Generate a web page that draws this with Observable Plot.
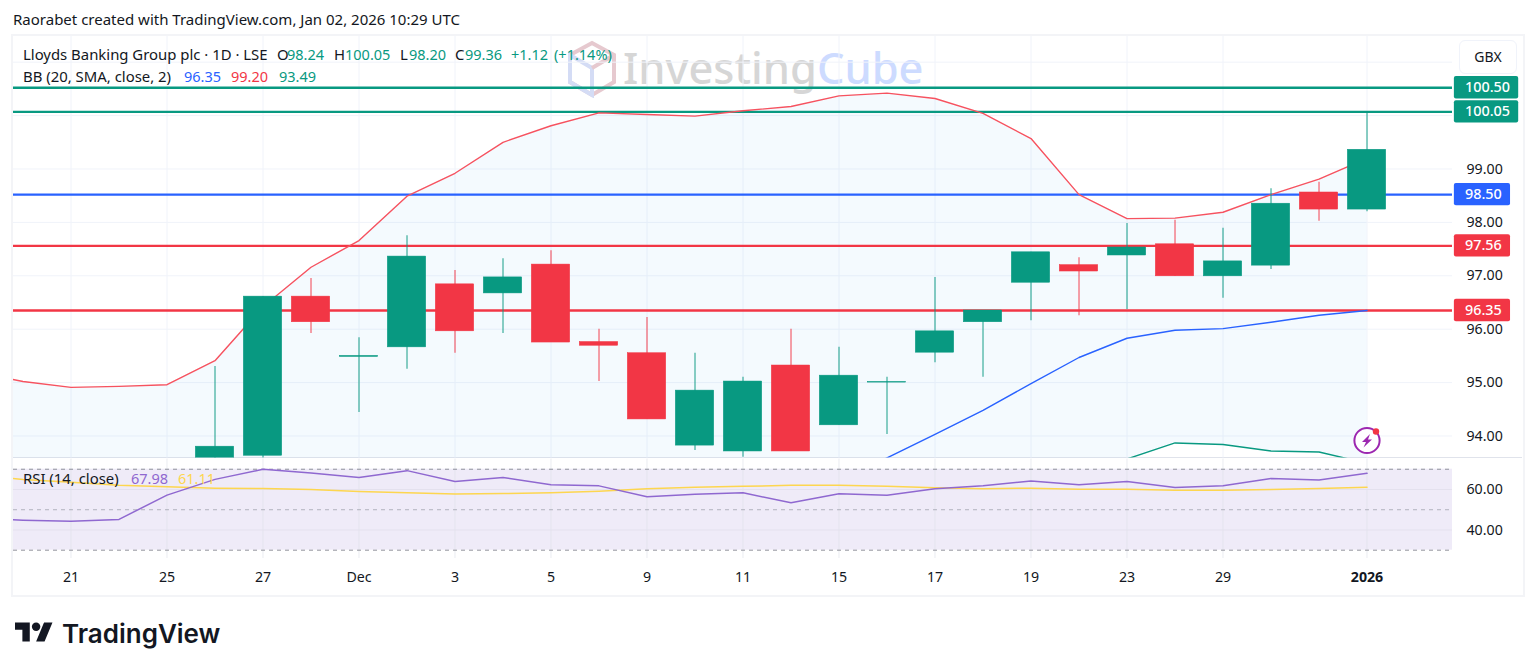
<!DOCTYPE html>
<html>
<head>
<meta charset="utf-8">
<script src="https://cdn.jsdelivr.net/npm/d3@7"></script>
<script src="https://cdn.jsdelivr.net/npm/@observablehq/plot@0.6"></script>
<style>
html,body{margin:0;padding:0;background:#fff;}
#page{position:relative;width:1536px;height:672px;overflow:hidden;font-family:"Noto Sans",sans-serif;color:#131722;}
#page svg{position:absolute;left:0;background:transparent;}
.t{position:absolute;white-space:pre;font-size:14.9px;line-height:18px;}
.n{font-size:14.5px;}
.up{color:#089981}.dn{color:#f23645}.bl{color:#2962ff}
</style>
</head>
<body>
<div id="page"></div>
<script>
// ---- Candles (one entry per trading session, x = session index) ----
const barIndex = [3,4,5,6,7,8,9,10,11,12,13,14,15,16,17,18,19,20,21,22,23,24,25,26,27];
const open  = [93.20,93.63,96.61,95.48,95.66,96.84,96.67,97.21,95.76,95.55,93.82,93.71,95.32,94.20,95.00,95.56,96.13,96.87,97.20,97.38,97.59,96.99,97.19,98.56,98.24];
const high  = [95.30,96.61,96.95,95.84,97.75,97.10,97.32,97.47,96.00,96.22,95.55,95.10,96.00,95.66,95.10,96.97,96.35,97.44,97.34,97.98,98.04,97.89,98.63,98.75,100.05];
const low   = [93.10,93.55,95.92,94.44,95.25,95.55,95.92,95.75,95.02,94.31,93.73,93.60,93.71,94.20,94.03,95.37,95.10,96.16,96.25,96.37,96.99,96.58,97.12,98.02,98.20];
const close = [93.80,96.61,96.13,95.50,97.36,95.96,96.97,95.75,95.69,94.31,94.85,95.02,93.71,95.13,95.01,95.96,96.35,97.44,97.08,97.53,96.99,97.27,98.35,98.24,99.36];

// ---- Bollinger bands ----
const bandIndex = [-2,-1,0,1,2,3,4,5,6,7,8,9,10,11,12,13,14,15,16,17,18,19,20,21,22,23,24,25,26,27];
const bbUpper = [95.21,95.02,94.91,94.93,94.96,95.41,96.42,97.16,97.66,98.49,98.92,99.50,99.81,100.05,100.02,99.99,100.09,100.17,100.37,100.42,100.32,100.04,99.57,98.52,98.07,98.08,98.19,98.52,98.81,99.20];
const bbLower = [90.2,90.0,89.9,89.7,89.5,89.2,88.8,88.3,87.9,87.5,87.2,87.0,86.9,86.8,86.7,86.6,86.6,86.6,86.5,86.8,87.74,88.9,90.4,92.42,93.57,93.87,93.84,93.72,93.70,93.49];
const basisIndex = [16,17,18,19,20,21,22,23,24,25,26,27];
const bbBasis = [93.17,93.59,94.03,94.48,94.98,95.47,95.83,95.98,96.01,96.13,96.26,96.35];

// ---- RSI pane ----
const rsi = [45.82,44.84,44.25,45.23,57.22,64.99,70.00,68.18,65.87,69.31,63.91,65.97,62.29,61.79,56.39,57.62,58.35,53.44,57.86,57.13,60.32,61.79,64.25,62.29,63.91,60.96,61.79,65.38,64.74,67.98];
const rsiMa = [66.95,64.99,63.61,62.14,61.30,60.66,60.47,59.98,58.99,58.35,57.71,58.01,58.35,59.09,60.32,61.06,61.55,62.04,62.04,61.55,60.81,60.32,60.66,60.17,60.17,59.68,59.68,59.98,60.47,61.11];
const rsiBands = [70,50,30];
const rsiGrid = [60,40];

// ---- Horizontal price levels (as drawn on the chart, and as labelled) ----
const levelPrices = [100.52,100.07,98.52,97.56,96.35];
const levelLabels = ["100.50","100.05","98.50","97.56","96.35"];
const levelKinds  = ["up","up","blue","down","down"];

// ---- Axes ----
const tickIndex  = [0,2,4,6,8,10,12,14,16,18,20,22,24,27];
const tickLabels = ["21","25","27","Dec","3","5","9","11","15","17","19","23","29","2026"];
const priceGrid  = [94,95,96,97,98,99,100,101];
const priceTicks = [94,95,96,97,98,99];

// ---- Presentation ----
const UP="#089981", DOWN="#f23645", BLUE="#2962ff", GRID="#f0f3fa", FONT='"Noto Sans",sans-serif';
const kindColor = {up:UP,down:DOWN,blue:BLUE};
const xDomain=[-1.198,28.781], W=1536, ML=13, MR=84;

const candles = barIndex.map((i,k)=>({i,o:open[k],h:high[k],l:low[k],c:close[k]}));
const band = bandIndex.map((i,k)=>({i,u:bbUpper[k],l:bbLower[k],r:rsi[k],m:rsiMa[k]}));
const basis = basisIndex.map((i,k)=>({i,v:bbBasis[k]}));
const levels = levelPrices.map((p,k)=>({p,label:levelLabels[k],kind:levelKinds[k],wide:p>=100}));
const col = d=>d.c>=d.o?UP:DOWN;

const price = Plot.plot({
  width:W,height:458,marginLeft:ML,marginRight:MR,marginTop:36,marginBottom:0.5,
  style:{fontFamily:FONT,fontSize:"14px",color:"#131722",background:"transparent",overflow:"visible"},
  x:{domain:xDomain,axis:null},
  y:{domain:[93.588,101.481],axis:null},
  marks:[
    Plot.ruleX(tickIndex,{stroke:GRID,strokeWidth:1}),
    Plot.ruleY(priceGrid,{stroke:GRID,strokeWidth:1}),
    Plot.areaY(band,{x:"i",y1:"l",y2:"u",fill:"#2196f3",fillOpacity:0.05,clip:true}),
    Plot.ruleY(levels,{y:"p",stroke:d=>kindColor[d.kind],strokeWidth:2.4}),
    Plot.line(band,{x:"i",y:"u",stroke:"#f7525f",strokeWidth:1.4,clip:true}),
    Plot.line(basis,{x:"i",y:"v",stroke:"#2962ff",strokeWidth:1.4,clip:true}),
    Plot.line(band,{x:"i",y:"l",stroke:"#089981",strokeWidth:1.4,clip:true}),
    Plot.ruleX(candles,{x:"i",y1:"l",y2:"h",stroke:col,strokeWidth:1.3,strokeOpacity:0.72,clip:true}),
    Plot.rect(candles,{x1:d=>d.i-0.4,x2:d=>d.i+0.4,y1:"o",y2:"c",fill:col,stroke:col,strokeWidth:0.5,clip:true}),
    Plot.axisY(priceTicks,{anchor:"right",tickSize:0,tickPadding:14,label:null,tickFormat:d=>d.toFixed(2),fontSize:14.2,fill:"#131722"}),
    Plot.rect(levels,{x1:28.82,x2:d=>d.wide?30.16:29.99,y1:d=>d.p-0.21,y2:d=>d.p+0.21,fill:d=>kindColor[d.kind],rx:2}),
    Plot.text(levels,{x:29.04,y:"p",text:"label",textAnchor:"start",fill:"#fff",fontSize:14.4,fontWeight:500})
  ]
});
price.style.top="0px";

const rsiPane = Plot.plot({
  width:W,height:600,marginLeft:ML,marginRight:MR,marginTop:0.5,marginBottom:500,
  style:{fontFamily:FONT,fontSize:"14px",color:"#131722",background:"transparent",overflow:"visible"},
  x:{domain:xDomain,axis:null},
  y:{domain:[25.9,75.06],axis:null},
  marks:[
    Plot.rectY([0],{x1:xDomain[0],x2:xDomain[1],y1:rsiBands[2],y2:rsiBands[0],fill:"#7e57c2",fillOpacity:0.12}),
    Plot.ruleX(tickIndex,{stroke:"#dfe2ea",strokeOpacity:0.65,strokeWidth:1}),
    Plot.ruleY(rsiGrid,{stroke:"#e4e1ee",strokeWidth:1}),
    Plot.ruleY(rsiBands,{stroke:"#787b86",strokeOpacity:d=>d===50?0.5:0.8,strokeDasharray:"4 4",strokeWidth:1}),
    Plot.line(band,{x:"i",y:"m",stroke:"#fdd64f",strokeWidth:1.5,clip:true}),
    Plot.line(band,{x:"i",y:"r",stroke:"#8f68d0",strokeWidth:1.5,clip:true}),
    Plot.axisY(rsiGrid,{anchor:"right",tickSize:0,tickPadding:14,label:null,tickFormat:d=>d.toFixed(2),fontSize:14.2,fill:"#131722"}),
    Plot.axisX(tickIndex.slice(0,-1),{anchor:"bottom",tickSize:0,tickPadding:13,label:null,tickFormat:i=>tickLabels[tickIndex.indexOf(i)],fontSize:14.2,fill:"#131722"}),
    Plot.axisX(tickIndex.slice(-1),{anchor:"bottom",tickSize:0,tickPadding:13,label:null,tickFormat:i=>tickLabels[tickIndex.indexOf(i)],fontSize:14.2,fontWeight:700,fill:"#131722"})
  ]
});
rsiPane.style.top="458px";

const page=document.getElementById("page");
function html(s){page.insertAdjacentHTML("beforeend",s);}
function text(x,y,str,cls=""){html(`<div class="t ${cls}" style="left:${x}px;top:${y}px">${str}</div>`);}

// chart frame
html(`<div style="position:absolute;left:11px;top:34px;width:1510px;height:559px;border:2px solid #f3f4f7;"></div>`);
html(`<div style="position:absolute;left:13px;top:457px;width:1509px;height:1px;background:#e0e3eb;"></div>`);
// watermark (under the panes)
html(`<svg style="top:40px;left:566px" width="52" height="58" viewBox="0 0 52 58">
<path d="M26 3 L48 15 L48 42 L26 55 L4 42 L4 15 Z" fill="none" stroke="#e6c9cf" stroke-width="4"/>
<path d="M4 15 L26 28 L26 55 L4 42 Z" fill="none" stroke="#d4dcf5" stroke-width="4"/>
<path d="M26 28 L48 15" fill="none" stroke="#e6c9cf" stroke-width="4"/></svg>`);
html(`<div style="position:absolute;left:623px;top:40px;font:500 43.4px/56px 'Noto Sans',sans-serif;white-space:pre"><span style="color:#d6d6d6">Investing</span><span style="color:#cddbff">Cube</span></div>`);

page.appendChild(price);
page.appendChild(rsiPane);

// title
html(`<div class="t" style="left:13px;top:10px;font-size:15px">Raorabet created with TradingView.com, Jan 02, 2026 10:29 UTC</div>`);
// legends
text(23,45,"Lloyds Banking Group plc · 1D · LSE");
text(277,45,"O"); text(287,45,"98.24","n up");
text(334,45,"H"); text(345,45,"100.05","n up");
text(400,45,"L"); text(409,45,"98.20","n up");
text(455,45,"C"); text(465,45,"99.36","n up");
text(511,45,"+1.12","n up"); text(554,45,"(+1.14%)","n up");
text(23,67,"BB (20, SMA, close, 2)");
text(184,67,"96.35","n bl"); text(231,67,"99.20","n dn"); text(279,67,"93.49","n up");
text(23,469,"RSI (14, close)");
html(`<div class="t n" style="left:131px;top:469px;color:#8f68d0">67.98</div>`);
html(`<div class="t n" style="left:178px;top:469px;color:#fdd64f">61.11</div>`);
// currency button
html(`<div style="position:absolute;left:1459px;top:40px;width:56px;height:32px;border:1.5px solid #f0f3fa;border-radius:6px;font-size:14px;line-height:32px;text-align:center">GBX</div>`);
// lightning badge
html(`<svg style="top:424px;left:1350px" width="34" height="34" viewBox="0 0 34 34">
<circle cx="17" cy="16.5" r="12.6" fill="#fff" stroke="#9c27b0" stroke-width="2"/>
<path d="M20 10 L12 18 L16 18 L13.5 23.5 L22 15.5 L18 15.5 Z" fill="#9c27b0"/>
<circle cx="26" cy="7.5" r="3.2" fill="#f23645"/></svg>`);
// TradingView logo
html(`<svg style="top:618px;left:15px" width="38" height="30" viewBox="0 0 36 28"><path fill="#131722" d="M14 22H7V11H0V4h14v18zM28 22h-8l7.5-18h8L28 22z"/><circle fill="#131722" cx="20" cy="8" r="4"/></svg>`);
html(`<div style="position:absolute;left:62px;top:615px;font:600 26px/38px Inter,sans-serif;color:#131722">TradingView</div>`);
</script>
</body>
</html>
